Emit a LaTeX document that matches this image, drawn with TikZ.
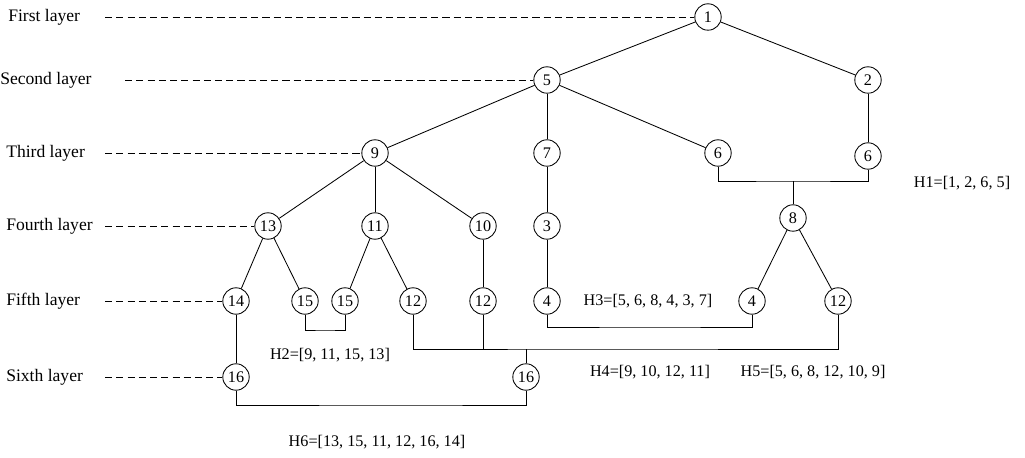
\documentclass[tikz,border=0pt]{standalone}
\usepackage{fontspec}
\setmainfont{Liberation Serif}
\begin{document}
\begin{tikzpicture}[x=0.025cm,y=-0.025cm,
  nd/.style={circle,draw,semithick,minimum size=0.66cm,inner sep=0pt,font=\fontsize{11.5}{12}\selectfont},
  lay/.style={anchor=west,font=\fontsize{12.5}{14}\selectfont,inner sep=0pt},
  hl/.style={font=\fontsize{11.5}{13}\selectfont,inner sep=1pt},
  ln/.style={semithick},
  dl/.style={semithick,dash pattern=on 5pt off 3pt}]
\useasboundingbox (0,0) rectangle (1025,458);
\node[nd] (n1) at (708,17) {1};
\node[nd] (n5) at (547,80) {5};
\node[nd] (n2) at (868,80) {2};
\node[nd] (n9) at (375,153) {9};
\node[nd] (n7) at (547,153) {7};
\node[nd] (n6a) at (718,153) {6};
\node[nd] (n6b) at (868,156) {6};
\node[nd] (n13) at (268,226) {13};
\node[nd] (n11) at (375,226) {11};
\node[nd] (n10) at (483,226) {10};
\node[nd] (n3) at (547,226) {3};
\node[nd] (n8) at (793,218) {8};
\node[nd] (n14) at (236,301) {14};
\node[nd] (n15a) at (305,301) {15};
\node[nd] (n15b) at (345,301) {15};
\node[nd] (n12a) at (413,301) {12};
\node[nd] (n12b) at (483,301) {12};
\node[nd] (n4a) at (547,301) {4};
\node[nd] (n4b) at (752,301) {4};
\node[nd] (n12c) at (838,301) {12};
\node[nd] (n16a) at (236,377) {16};
\node[nd] (n16b) at (526,377) {16};
\node[lay] (l1) at (8,17) {First layer};
\node[lay] (l2) at (0,80) {Second layer};
\node[lay] (l3) at (6,153) {Third layer};
\node[lay] (l4) at (6,226) {Fourth layer};
\node[lay] (l5) at (6,301) {Fifth layer};
\node[lay] (l6) at (6,377) {Sixth layer};
\draw[dl] (105,17) -- (n1);
\draw[dl] (125,80) -- (n5);
\draw[dl] (105,153) -- (n9);
\draw[dl] (105,226) -- (n13);
\draw[dl] (105,301) -- (n14);
\draw[dl] (105,377) -- (n16a);
\draw[ln] (n1)--(n5); \draw[ln] (n1)--(n2);
\draw[ln] (n5)--(n9); \draw[ln] (n5)--(n7); \draw[ln] (n5)--(n6a);
\draw[ln] (n2)--(n6b);
\draw[ln] (n9)--(n13); \draw[ln] (n9)--(n11); \draw[ln] (n9)--(n10);
\draw[ln] (n7)--(n3);
\draw[ln] (n13)--(n14); \draw[ln] (n13)--(n15a);
\draw[ln] (n11)--(n15b); \draw[ln] (n11)--(n12a);
\draw[ln] (n10)--(n12b); \draw[ln] (n3)--(n4a);
\draw[ln] (n8)--(n4b); \draw[ln] (n8)--(n12c);
\draw[ln] (n14)--(n16a);
\draw[ln] (n6a) |- (793,181) -| (n6b);
\draw[ln] (n8) -- (793,181);
\draw[ln] (n15a) |- (325,330) -| (n15b);
\draw[ln] (n4a) |- (650,327) -| (n4b);
\draw[ln] (n12a) |- (600,349) -| (n12c);
\draw[ln] (n12b) -- (483,349);
\draw[ln] (n16b) -- (526,349);
\draw[ln] (n16a) |- (400,405) -| (n16b);
\node[hl] (h1) at (962,183) {H1=[1, 2, 6, 5]};
\node[hl] (h2) at (330,355) {H2=[9, 11, 15, 13]};
\node[hl] (h3) at (648,301) {H3=[5, 6, 8, 4, 3, 7]};
\node[hl] (h4) at (650,372) {H4=[9, 10, 12, 11]};
\node[hl] (h5) at (813,372) {H5=[5, 6, 8, 12, 10, 9]};
\node[hl] (h6) at (377,442) {H6=[13, 15, 11, 12, 16, 14]};
\end{tikzpicture}
\end{document}
